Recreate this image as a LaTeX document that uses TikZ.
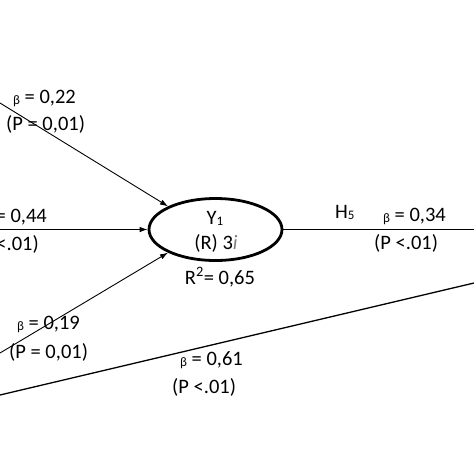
\documentclass[tikz,border=0pt]{standalone}
\usepackage{fontspec}
\setmainfont{Carlito}
\usetikzlibrary{arrows.meta,shapes.geometric}
\newcommand\smallbeta{\raisebox{-1.5pt}{\fontsize{13}{13}\selectfont β}}
\newcommand\subidx[1]{\raisebox{-1pt}{\fontsize{13}{13}\selectfont #1}}
\begin{document}
\begin{tikzpicture}[x=1pt,y=-1pt,
  lbl/.style={inner sep=0pt,font=\fontsize{20.5}{24}\selectfont},
  conn/.style={line width=0.9pt,draw=black},
  arr/.style={conn,-{Latex[length=8pt,width=5.5pt]}},
  construct/.style={draw,ellipse,line width=2.8pt,minimum width=133pt,minimum height=62pt,inner sep=0pt}]
\useasboundingbox (0,0) rectangle (474,474);
\clip (0,0) rectangle (474,474);

\node[construct] (Y) at (215.5,229.5) {};
\node[lbl,anchor=base] (y1) at (215,224) {Y\subidx{1}};
\node[lbl,anchor=base] (r3i) at (216,249) {(R) 3{\itshape\color{gray}i}};
\node[lbl,anchor=base] (r2) at (220,284) {R\textsuperscript{2}= 0,65};

\coordinate (s1) at (0,103);
\coordinate (s2) at (0,229.5);
\coordinate (s3) at (0,353);
\coordinate (o1) at (474,229.5);
\coordinate (l1) at (0,395);
\coordinate (l2) at (474,283);

\draw[arr] (s1) -- (Y.154);
\draw[arr] (s2) -- (Y.west);
\draw[arr] (s3) -- (Y.206);
\draw[conn] (Y.east) -- (o1);
\draw[conn,line width=1.3pt] (l1) -- (l2);

\node[lbl,anchor=base west] (b22) at (13,103) {\smallbeta\ = 0,22};
\node[lbl,anchor=base west] (p22) at (6,130) {(P = 0,01)};
\node[lbl,anchor=base east] (b44) at (47,222) {\smallbeta\ = 0,44};
\node[lbl,anchor=base east] (p44) at (39,250) {(P <.01)};
\node[lbl,anchor=base west] (h5) at (335,218) {H\subidx{5}};
\node[lbl,anchor=base west] (b34) at (383,221) {\smallbeta\ = 0,34};
\node[lbl,anchor=base west] (p34) at (374,249) {(P <.01)};
\node[lbl,anchor=base west] (b19) at (17,329) {\smallbeta\ = 0,19};
\node[lbl,anchor=base west] (p19) at (9,358) {(P = 0,01)};
\node[lbl,anchor=base west] (b61) at (180,365) {\smallbeta\ = 0,61};
\node[lbl,anchor=base west] (p61) at (172,393) {(P <.01)};
\end{tikzpicture}
\end{document}
